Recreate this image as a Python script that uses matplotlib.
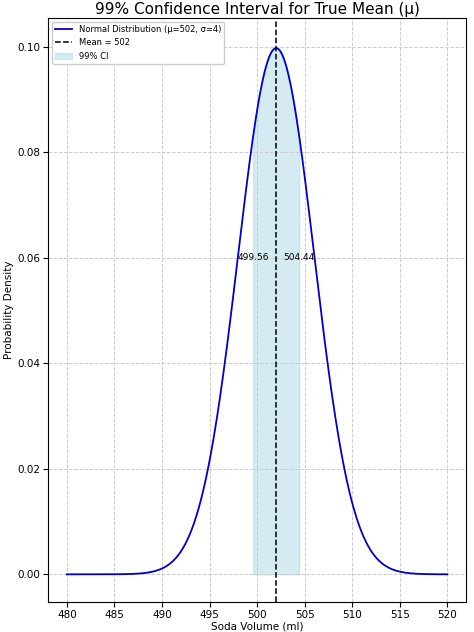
import numpy as np
import matplotlib
matplotlib.use("Agg")
import matplotlib.pyplot as plt

mu = 502
sigma = 4
x_min, x_max = 480, 520
ci_low, ci_high = 499.56, 504.44
label_y = 0.06
xticks = [480, 485, 490, 495, 500, 505, 510, 515, 520]
yticks = [0.00, 0.02, 0.04, 0.06, 0.08, 0.10]

x = np.linspace(x_min, x_max, 1000)
y = np.exp(-0.5 * ((x - mu) / sigma) ** 2) / (sigma * np.sqrt(2 * np.pi))

fig = plt.figure(figsize=(4.74, 6.32), dpi=100)
ax = fig.add_axes([0.101, 0.047, 0.883, 0.925])
ax.plot(x, y, color="#0000cc", lw=1.3, label=f"Normal Distribution (μ={mu}, σ={sigma})")
ax.axvline(mu, color="black", ls="--", lw=1.1, label=f"Mean = {mu}")
mask = (x >= ci_low) & (x <= ci_high)
ax.fill_between(x[mask], 0, y[mask], color="#add8e6", alpha=0.5, label="99% CI")
ax.text(ci_low, label_y, f"{ci_low:.2f}", ha="center", va="center", fontsize=6.5)
ax.text(ci_high, label_y, f"{ci_high:.2f}", ha="center", va="center", fontsize=6.5)
ax.set_xticks(xticks)
ax.set_yticks(yticks)
ax.set_xlim(478, 522)
ax.set_ylim(-0.0053, 0.1055)
ax.tick_params(labelsize=7.5, pad=2)
ax.grid(True, ls="--", color="#cccccc", lw=0.7)
ax.set_xlabel("Soda Volume (ml)", fontsize=7.5, labelpad=1)
ax.set_ylabel("Probability Density", fontsize=7.5, labelpad=2)
ax.set_title("99% Confidence Interval for True Mean (μ)", fontsize=11, pad=3)
ax.legend(loc="upper left", fontsize=6, framealpha=1)
fig.savefig("out.png", dpi=100)
